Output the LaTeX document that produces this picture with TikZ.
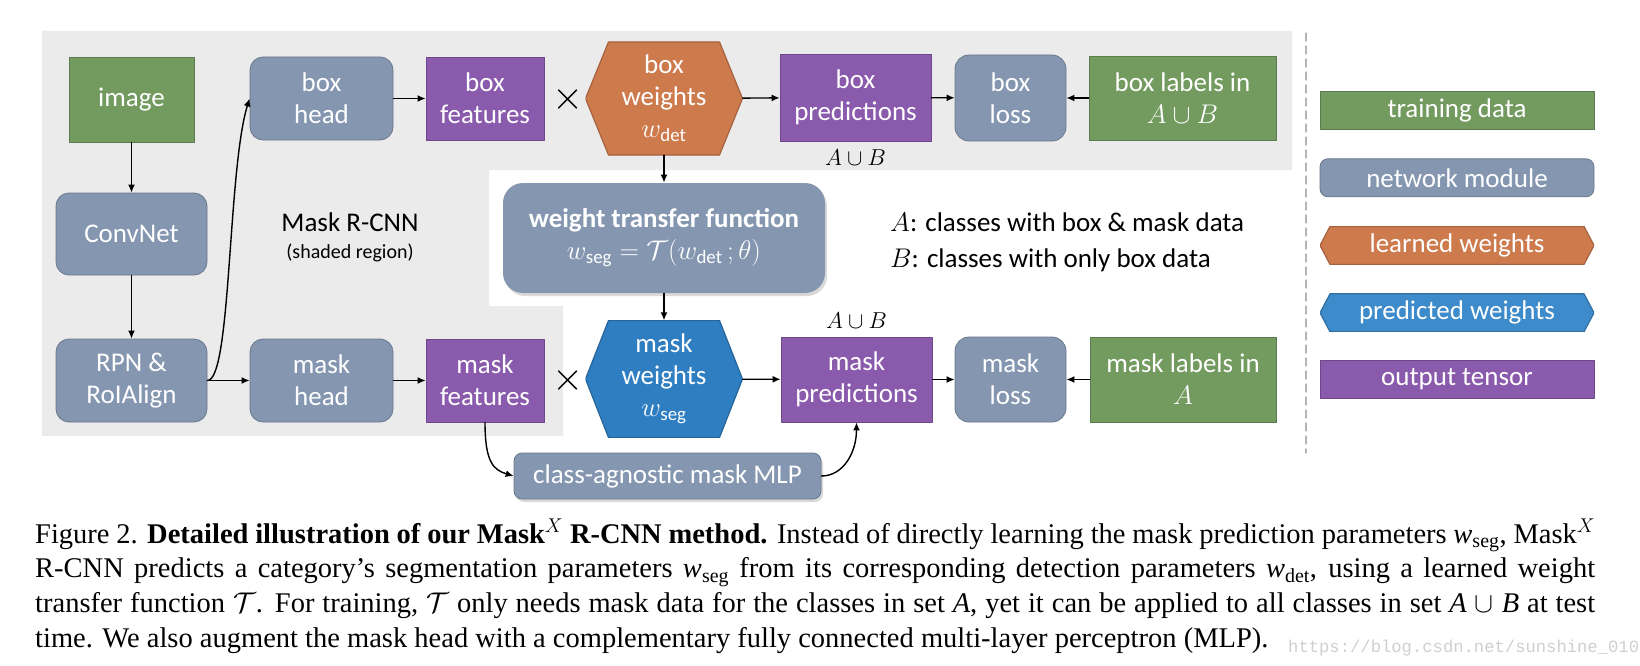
\RequirePackage{fix-cm}
\documentclass[tikz,border=0pt]{standalone}
\usepackage{amsmath,amssymb}
\usepackage{fontspec}
\setmainfont{Carlito}
\newfontfamily\capfont{Liberation Serif}
\newfontfamily\wmfont{Liberation Mono}
\usepackage{xcolor}
\usepackage{tikz}
\usetikzlibrary{positioning,arrows.meta,shadows}
\definecolor{shadegray}{HTML}{EBEBEB}
\definecolor{data}{HTML}{739A5F}
\definecolor{module}{HTML}{8496B0}
\definecolor{learned}{HTML}{CD7A4D}
\definecolor{predicted}{HTML}{2F7EC1}
\definecolor{predlight}{HTML}{3D8BCB}
\definecolor{tensor}{HTML}{8A5AAC}
\definecolor{divider}{HTML}{B4B4B4}
\definecolor{wmark}{HTML}{CFCFCF}
\tikzset{
  Box/.style={
    text=white, align=center, inner sep=0pt,
    font=\fontsize{27}{32}\selectfont
  },
  DataBox/.style={Box, fill=data, draw=data!80!black, line width=0.8pt},
  ModBox/.style={Box, fill=module, draw=module!80!black, line width=0.8pt, rounded corners=13pt},
  OutBox/.style={Box, fill=tensor, draw=tensor!80!black, line width=0.8pt},
  HexBox/.style n args={2}{
    % #1 = fill colour, #2 = how far the side tips stick out
    Box,
    path picture={
      \filldraw[fill=#1, draw=#1!80!black, line width=1.2pt]
        (path picture bounding box.west)
        -- ([xshift=#2]path picture bounding box.north west)
        -- ([xshift=-#2]path picture bounding box.north east)
        -- (path picture bounding box.east)
        -- ([xshift=-#2]path picture bounding box.south east)
        -- ([xshift=#2]path picture bounding box.south west) -- cycle;
    }
  },
  Flow/.style={-{Latex[length=8pt,width=7pt]}, line width=1.4pt},
  Soft/.style={drop shadow={shadow xshift=2pt, shadow yshift=-3pt, opacity=0.3}}
}

\begin{document}
\begin{tikzpicture}[x=1pt, y=-1pt, line cap=round, line join=round]
  \useasboundingbox (0,0) rectangle (1640,666);

  % shaded Mask R-CNN region
  \fill[shadegray] (42,31) -- (1292,31) -- (1292,170) -- (489,170) -- (489,306)
    -- (563,306) -- (563,436) -- (42,436) -- cycle;
  \draw[divider, line width=1.2pt, dash pattern=on 8pt off 5pt] (1306,33) -- (1306,453);

  % backbone
  \node[DataBox, minimum width=125pt, minimum height=85pt] (image) at (131.5,99.5) {image};
  \node[ModBox, minimum width=151pt, minimum height=82pt] (convnet) at (131.5,234) {ConvNet};
  \node[ModBox, minimum width=151pt, minimum height=83pt] (rpn) at (131.5,380.5) {RPN \&\\RoIAlign};

  \node[font=\fontsize{27}{32}\selectfont, inner sep=0pt] (rcnn) at (350,222) {Mask R-CNN};
  \node[font=\fontsize{20}{24}\selectfont, inner sep=0pt, below=12pt of rcnn] (shaded) {(shaded region)};

  % box branch
  \node[ModBox, minimum width=143pt, minimum height=83pt] (bhead) at (321.5,98.5) {box\\head};
  \node[OutBox, minimum width=118pt, minimum height=83pt] (bfeat) at (485,98.5) {box\\features};
  \node[font=\fontsize{40}{40}\selectfont, inner sep=0pt] (btimes) at (568,100) {$\times$};
  \node[HexBox={learned}{23pt}, minimum width=157pt, minimum height=113pt] (bweights) at (664,98.5)
    {box\\weights\\$w_{\mathrm{det}}$};
  \node[OutBox, minimum width=151pt, minimum height=87pt] (bpred) at (855.5,97.5) {box\\predictions};
  \node[font=\fontsize{23}{23}\selectfont, inner sep=0pt, below=8pt of bpred] (bunion) {$A\cup B$};
  \node[ModBox, rounded corners=14pt, minimum width=111pt, minimum height=86pt] (bloss) at (1010.5,98) {box\\loss};
  \node[DataBox, minimum width=187pt, minimum height=84pt] (blabels) at (1182.5,98) {box labels in\\$A\cup B$};

  % weight transfer
  \node[ModBox, Soft, draw=none, rounded corners=20pt, minimum width=322pt, minimum height=110pt] (wtf) at (664,238)
    {\textbf{weight transfer function}\\$w_{\mathrm{seg}} = \mathcal{T}(w_{\mathrm{det}}\,;\theta)$};
  \node[anchor=west, align=left, inner sep=0pt, font=\fontsize{27}{36}\selectfont] (sets) at (890,242)
    {$A$: classes with box \& mask data\\$B$: classes with only box data};

  % mask branch
  \node[ModBox, minimum width=143pt, minimum height=83pt] (mhead) at (321.5,380.5) {mask\\head};
  \node[OutBox, minimum width=118pt, minimum height=83pt] (mfeat) at (485,380.5) {mask\\features};
  \node[font=\fontsize{40}{40}\selectfont, inner sep=0pt] (mtimes) at (568,380) {$\times$};
  \node[HexBox={predicted}{23pt}, minimum width=157pt, minimum height=117pt] (mweights) at (664,379)
    {mask\\weights\\$w_{\mathrm{seg}}$};
  \node[OutBox, minimum width=151pt, minimum height=85pt] (mpred) at (856.5,379.5) {mask\\predictions};
  \node[font=\fontsize{23}{23}\selectfont, inner sep=0pt, above=8pt of mpred] (munion) {$A\cup B$};
  \node[ModBox, rounded corners=14pt, minimum width=111pt, minimum height=85pt] (mloss) at (1010.5,379.5) {mask\\loss};
  \node[DataBox, minimum width=186pt, minimum height=85pt] (mlabels) at (1183,379.5) {mask labels in\\$A$};
  \node[ModBox, Soft, rounded corners=8pt, minimum width=307pt, minimum height=46pt] (mlp) at (667.5,476)
    {class-agnostic mask MLP};

  % legend
  \node[DataBox, minimum width=274pt, minimum height=38pt] (lgdata) at (1457,110) {training data};
  \node[ModBox, rounded corners=8pt, minimum width=274pt, minimum height=38pt, below=29pt of lgdata] (lgmodule) {network module};
  \node[HexBox={learned}{10pt}, minimum width=274pt, minimum height=38pt, below=29pt of lgmodule] (lglearned) {learned weights};
  \node[HexBox={predlight}{10pt}, minimum width=274pt, minimum height=38pt, below=29pt of lglearned] (lgpredicted) {predicted weights};
  \node[OutBox, minimum width=274pt, minimum height=38pt, below=28pt of lgpredicted] (lgtensor) {output tensor};

  % connectors
  \draw[Flow] (image) -- (convnet);
  \draw[Flow] (convnet) -- (rpn);
  \draw[Flow] (rpn) -- (mhead);
  \draw[Flow] (rpn.east) .. controls +(24,0) and +(-22,71) .. (bhead.west);
  \draw[Flow] (bhead) -- (bfeat);
  \draw[Flow] (mhead) -- (mfeat);
  \draw[Flow] (bweights) -- (bpred);
  \draw[Flow] (mweights) -- (mpred);
  \draw[Flow] (bpred) -- (bloss);
  \draw[Flow] (mpred) -- (mloss);
  \draw[Flow] (blabels) -- (bloss);
  \draw[Flow] (mlabels) -- (mloss);
  \draw[Flow] (bweights) -- (wtf);
  \draw[Flow] (wtf) -- (mweights);
  \draw[Flow] (mfeat.south) .. controls +(0,40) and +(-20,-6) .. (mlp.west);
  \draw[Flow] (mlp.east) .. controls +(22,0) and +(0,30) .. (mpred.south);

  % caption
  \node[anchor=north west, inner sep=0pt, text width=1560pt, align=justify,
    font=\capfont\fontsize{28.5}{34.7}\selectfont] (caption) at (35,519)
    {Figure 2. \textbf{Detailed illustration of our Mask$^X$ R-CNN method.} Instead of directly
     learning the mask prediction parameters $\textit{w}_{\text{seg}}$, Mask$^X$\linebreak
     R-CNN predicts a category’s segmentation parameters $\textit{w}_{\text{seg}}$ from its
     corresponding detection parameters $\textit{w}_{\text{det}}$, using a learned weight\linebreak
     transfer function $\mathcal{T}$. For training, $\mathcal{T}$ only needs mask data for the
     classes in set \textit{A}, yet it can be applied to all classes in set \textit{A}~$\cup$~\textit{B} at test\linebreak
     time. We also augment the mask head with a complementary fully connected multi-layer perceptron (MLP).};
  \node[anchor=base west, inner sep=0pt, text=wmark, font=\wmfont\fontsize{17.2}{20}\selectfont] (watermark)
    at (1288,652) {https://blog.csdn.net/sunshine\_010};
\end{tikzpicture}
\end{document}
